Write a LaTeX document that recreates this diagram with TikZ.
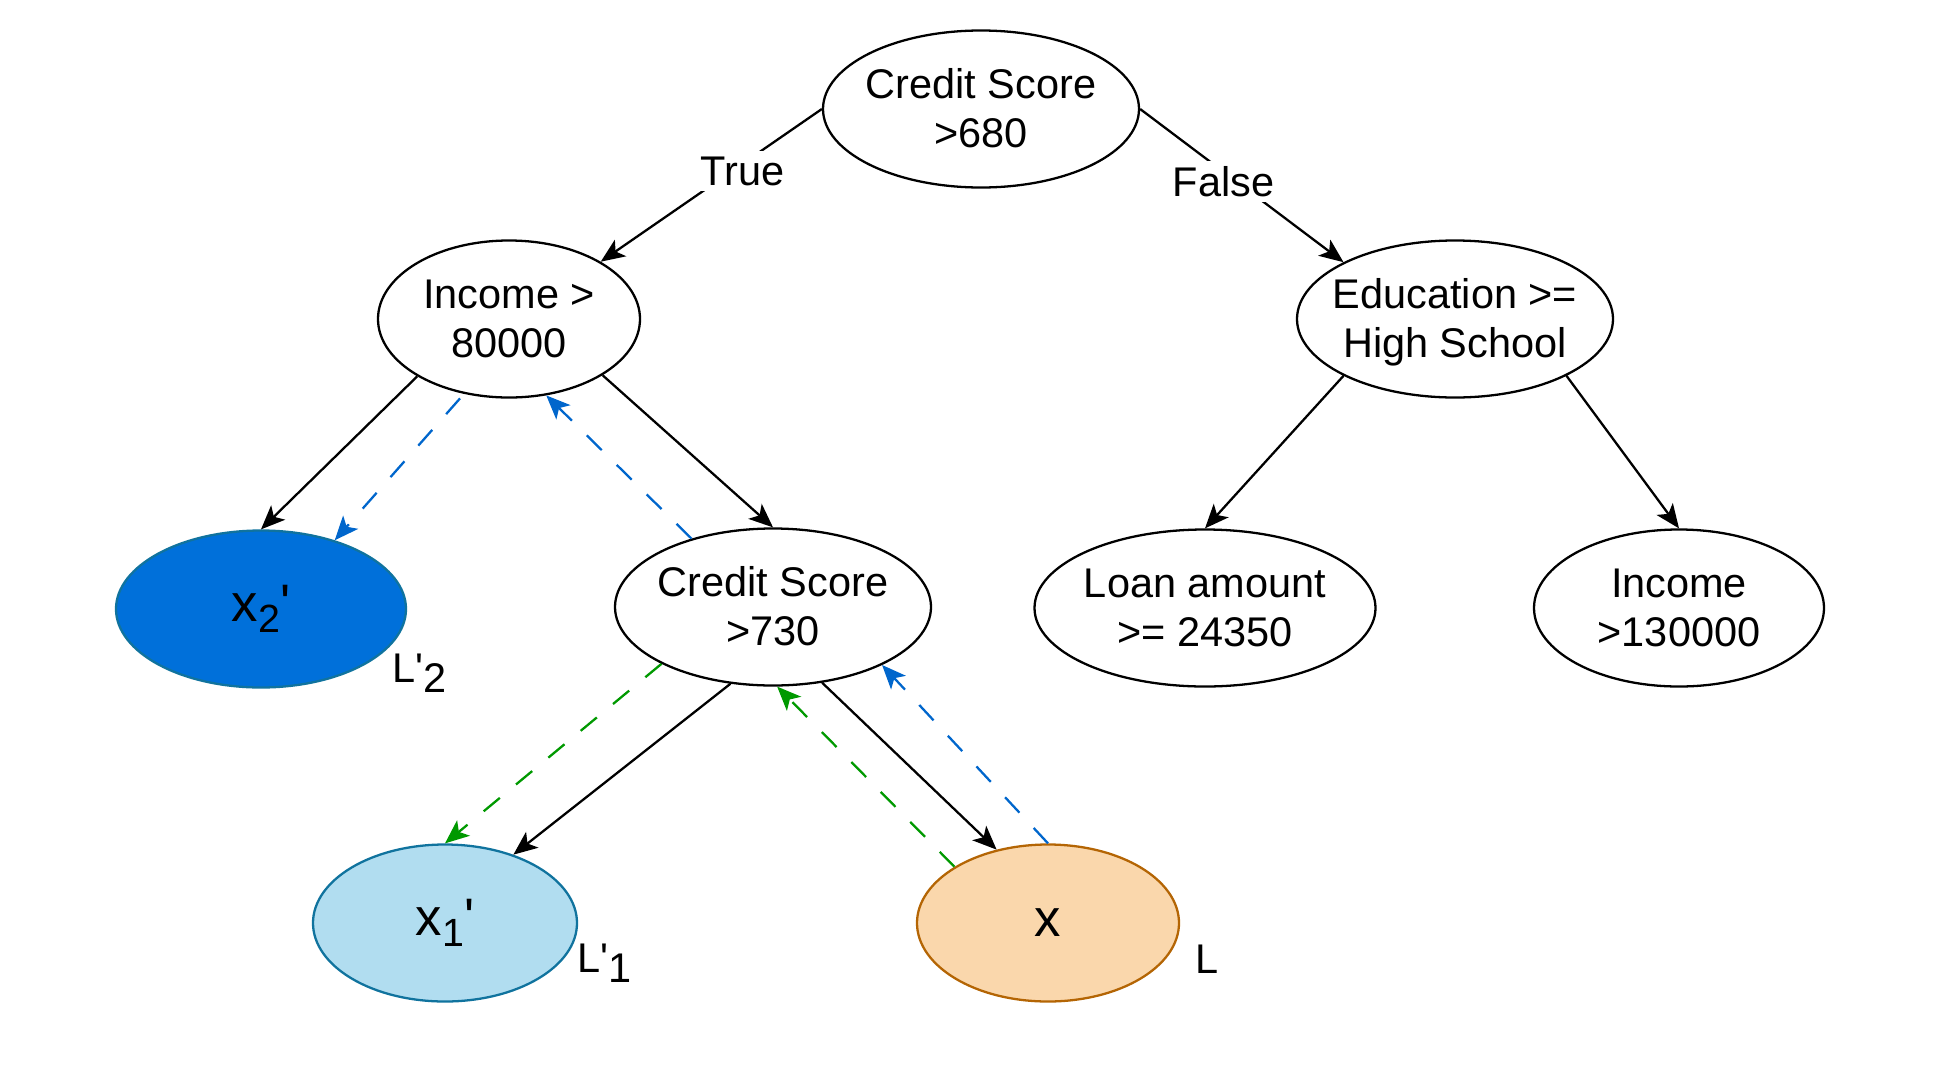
\documentclass[tikz,border=0pt]{standalone}
\usepackage{fontspec}
\setmainfont{Liberation Sans}
\usepackage{xcolor}
\usepackage{tikz}
\usetikzlibrary{shapes.geometric,arrows.meta}
\definecolor{leafdark}{HTML}{0070DA}
\definecolor{leafdarkline}{HTML}{10739E}
\definecolor{leaflight}{HTML}{B1DDF0}
\definecolor{leaflightline}{HTML}{10739E}
\definecolor{leaforange}{HTML}{FAD7AC}
\definecolor{leaforangeline}{HTML}{B46504}
\definecolor{pathblue}{HTML}{0066CC}
\definecolor{pathgreen}{HTML}{009900}
\newcommand{\twolines}[2]{\makebox[0pt]{\raisebox{-1.3pt}[\height][\depth]{\begin{tabular}{@{}c@{}}#1\\#2\end{tabular}}}}
\newcommand{\lsub}[1]{\raisebox{-0.26em}{#1}}
\newcommand{\xsub}[1]{\raisebox{-0.22em}{\fontsize{11.2}{12}\selectfont #1}}

\begin{document}
\begin{tikzpicture}[
		font=\fontsize{11.8}{13.9}\selectfont,
		test/.style={ellipse,draw,line width=0.65pt,inner sep=0pt,minimum height=1.57cm},
		leaf/.style={ellipse,line width=0.65pt,inner sep=0pt,minimum height=1.57cm,font=\fontsize{15}{17}\selectfont},
		branch/.style={line width=0.65pt,-{Stealth[length=0.24cm,width=0.2cm,inset=0.06cm]}},
		walk/.style={branch,dash pattern=on 0.21cm off 0.21cm},
		answer/.style={fill=white,inner sep=1.5pt},
		tag/.style={anchor=base west,inner sep=0pt}]
			\useasboundingbox (0,0) rectangle (19.48,10.84);
			\node[test,minimum width=3.16cm] (root) at (9.81,9.75) {\twolines{Credit Score}{>680}};
			\node[test,minimum width=2.62cm] (inc) at (5.09,7.65) {\twolines{Income >}{80000}};
			\node[test,minimum width=3.16cm] (edu) at (14.55,7.65) {\twolines{Education >=}{High School}};
			\node[test,minimum width=3.16cm] (cs) at (7.73,4.77) {\twolines{Credit Score}{>730}};
			\node[test,minimum width=3.41cm] (loan) at (12.05,4.76) {\twolines{Loan amount}{>= 24350}};
			\node[test,minimum width=2.90cm] (incb) at (16.79,4.76) {\twolines{Income}{>130000}};
			\node[leaf,minimum width=2.90cm,fill=leafdark,draw=leafdarkline] (xtwo) at (2.61,4.75) {x\xsub{2}\textquotesingle};
			\node[leaf,minimum width=2.64cm,fill=leaflight,draw=leaflightline] (xone) at (4.45,1.61) {x\xsub{1}\textquotesingle};
			\node[leaf,minimum width=2.62cm,fill=leaforange,draw=leaforangeline] (xq) at (10.48,1.61) {x};
			\node[tag] (ltwo) at (3.92,4.02) {L\textquotesingle\lsub{2}};
			\node[tag] (lone) at (5.77,1.12) {L\textquotesingle\lsub{1}};
			\node[tag] (lq) at (11.95,1.11) {L};
			\draw[branch] (root.west) -- node[answer,pos=0.36,yshift=-0.07cm] {True} (inc.32);
			\draw[branch] (root.east) -- node[answer,pos=0.41,yshift=-0.1cm] {False} (edu.153);
			\draw[branch] (inc.-148) -- (xtwo.north);
			\draw[branch] (inc.-31) -- (cs.north);
			\draw[branch] (cs.-119) -- (xone.45);
			\draw[branch] (cs.-57) -- (xq.125);
			\draw[branch] (edu.-153) -- (loan.north);
			\draw[branch] (edu.-27) -- (incb.north);
			\draw[walk,pathblue,shorten <=0.06cm] (inc.-121) -- (xtwo.43);
			\draw[walk,pathblue] (cs.140) -- (inc.-64);
			\draw[walk,pathblue] (xq.north) -- (cs.-28);
			\draw[walk,pathgreen] (cs.-153) -- (xone.north);
			\draw[walk,pathgreen] (xq.149) -- (cs.-87);
		\end{tikzpicture}
\end{document}
